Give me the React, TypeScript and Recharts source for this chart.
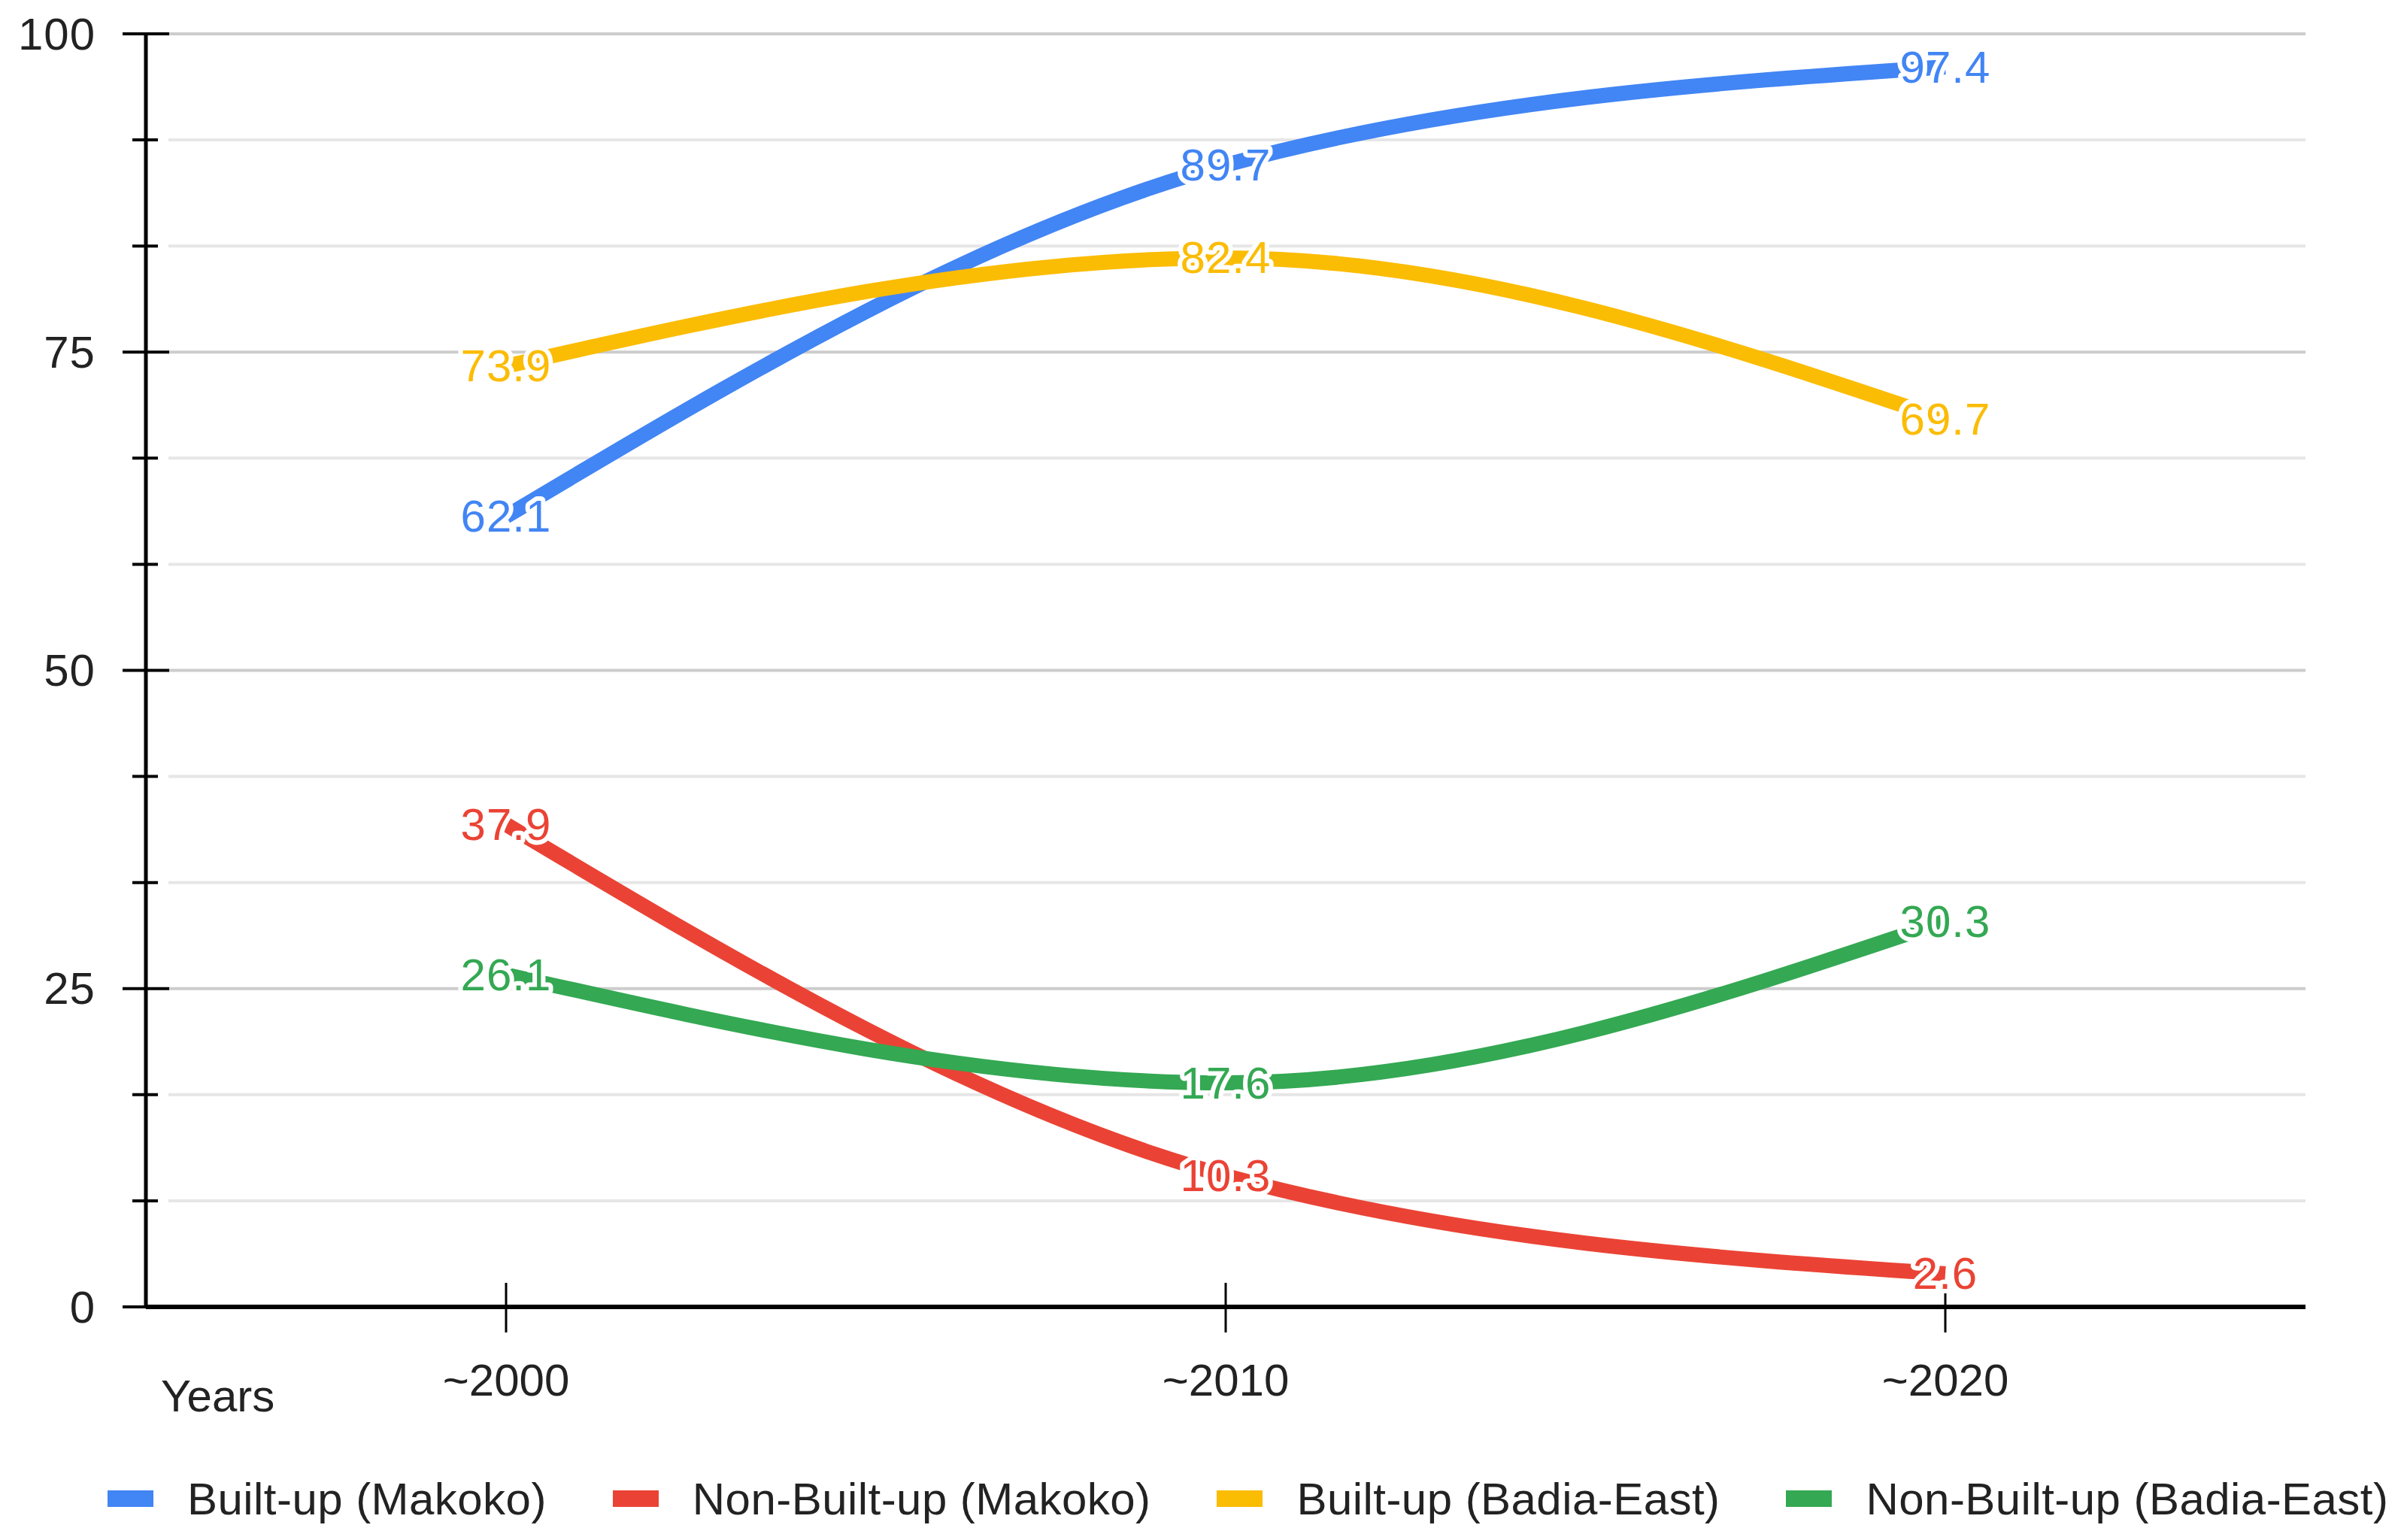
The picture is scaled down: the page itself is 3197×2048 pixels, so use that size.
import React from 'react';
import {
  LineChart,
  Line,
  XAxis,
  YAxis,
  CartesianGrid,
  Legend,
  LabelList,
  Label,
} from 'recharts';

const years = ['~2000', '~2010', '~2020'];
const builtMakoko = [62.1, 89.7, 97.4];
const nonBuiltMakoko = [37.9, 10.3, 2.6];
const builtBadia = [73.9, 82.4, 69.7];
const nonBuiltBadia = [26.1, 17.6, 30.3];

const yTicks = [0, 8.33, 16.67, 25, 33.33, 41.67, 50, 58.33, 66.67, 75, 83.33, 91.67, 100];
const majorTicks = [0, 25, 50, 75, 100];

const series = [
  { key: 'builtMakoko', name: 'Built-up (Makoko)', color: '#4285F4' },
  { key: 'nonBuiltMakoko', name: 'Non-Built-up (Makoko)', color: '#EA4335' },
  { key: 'builtBadia', name: 'Built-up (Badia-East)', color: '#FBBC04' },
  { key: 'nonBuiltBadia', name: 'Non-Built-up (Badia-East)', color: '#34A853' },
];

const data = years.map((year, i) => ({
  year,
  builtMakoko: builtMakoko[i],
  nonBuiltMakoko: nonBuiltMakoko[i],
  builtBadia: builtBadia[i],
  nonBuiltBadia: nonBuiltBadia[i],
}));

const FONT = '"Liberation Sans", Arial, sans-serif';
const W = 3197;
const H = 2048;
const PLOT_TOP = 45;
const PLOT_BOTTOM = 1738;

const YTick = (props: any) => {
  const { x, y, payload } = props;
  const major = majorTicks.includes(Math.round(payload.value * 100) / 100);
  return (
    <g>
      <line
        x1={major ? x - 31 : x - 18}
        x2={major ? x + 31 : x + 16}
        y1={y}
        y2={y}
        stroke="#000"
        strokeWidth={4}
      />
      {major && (
        <text
          x={x - 67}
          y={y}
          textAnchor="end"
          dominantBaseline="central"
          fontSize={60}
          fontFamily={FONT}
          letterSpacing={1}
          fill="#222"
        >
          {payload.value}
        </text>
      )}
    </g>
  );
};

const XTick = (props: any) => {
  const { x, y, payload } = props;
  return (
    <g>
      <line x1={x} x2={x} y1={y - 32} y2={y + 34} stroke="#000" strokeWidth={3} />
      <text
        x={x}
        y={y + 97}
        textAnchor="middle"
        dominantBaseline="central"
        fontSize={60}
        fontFamily={FONT}
        fill="#222"
      >
        {payload.value}
      </text>
    </g>
  );
};

const gridLine = (props: any) => {
  const y = props.y1 ?? props.y;
  const v = ((PLOT_BOTTOM - y) / (PLOT_BOTTOM - PLOT_TOP)) * 100;
  const major = Math.abs(v / 25 - Math.round(v / 25)) < 0.05;
  return (
    <line
      key={props.key ?? `g-${y}`}
      x1={props.x1 + 30}
      x2={props.x2}
      y1={y}
      y2={y}
      stroke={major ? '#cccccc' : '#e6e6e6'}
      strokeWidth={4}
    />
  );
};

const makeLabel = (color: string) => (props: any) => {
  const { x, y, value } = props;
  return (
    <text
      x={x}
      y={y}
      textAnchor="middle"
      dominantBaseline="central"
      fontSize={60}
      fontFamily={FONT}
      letterSpacing={1}
      fill={color}
      stroke="#fff"
      strokeWidth={12}
      paintOrder="stroke"
      strokeLinejoin="round"
    >
      {value}
    </text>
  );
};

const renderLegend = () => (
  <div
    style={{
      display: 'flex',
      alignItems: 'center',
      height: 110,
      paddingLeft: 143,
      fontFamily: FONT,
      fontSize: 60,
      letterSpacing: 0.45,
      color: '#222',
      whiteSpace: 'nowrap',
    }}
  >
    {series.map((s) => (
      <div key={s.key} style={{ display: 'flex', alignItems: 'center', marginRight: 88 }}>
        <div style={{ width: 61, height: 22, background: s.color, marginRight: 45 }} />
        <span>{s.name}</span>
      </div>
    ))}
  </div>
);

export default function App() {
  return (
    <div style={{ position: 'absolute', left: 0, top: 0, background: '#fff' }}>
      <LineChart
        width={W}
        height={H}
        data={data}
        margin={{ top: PLOT_TOP, right: 131, left: 0, bottom: 0 }}
      >
        <CartesianGrid vertical={false} horizontal={gridLine} />
        <XAxis
          dataKey="year"
          height={200}
          padding={{ left: 479, right: 479 }}
          tick={<XTick />}
          tickLine={false}
          tickSize={0}
          tickMargin={0}
          axisLine={{ stroke: '#000', strokeWidth: 6 }}
          interval={0}
        >
          <Label
            content={(p: any) => (
              <text
                x={p.viewBox.x + 20}
                y={p.viewBox.y + 118}
                dominantBaseline="central"
                fontSize={60}
                fontFamily={FONT}
                fill="#222"
              >
                Years
              </text>
            )}
          />
        </XAxis>
        <YAxis
          width={194}
          domain={[0, 100]}
          ticks={yTicks}
          interval={0}
          tick={<YTick />}
          tickLine={false}
          tickSize={0}
          tickMargin={0}
          axisLine={{ stroke: '#000', strokeWidth: 5 }}
        />
        <Legend verticalAlign="bottom" height={110} content={renderLegend} wrapperStyle={{ left: 0, width: W }} />
        {series.map((s) => (
          <Line
            key={s.key}
            type="monotone"
            dataKey={s.key}
            name={s.name}
            stroke={s.color}
            strokeWidth={20}
            dot={false}
            activeDot={false}
            isAnimationActive={false}
          >
            <LabelList dataKey={s.key} content={makeLabel(s.color)} />
          </Line>
        ))}
      </LineChart>
    </div>
  );
}
